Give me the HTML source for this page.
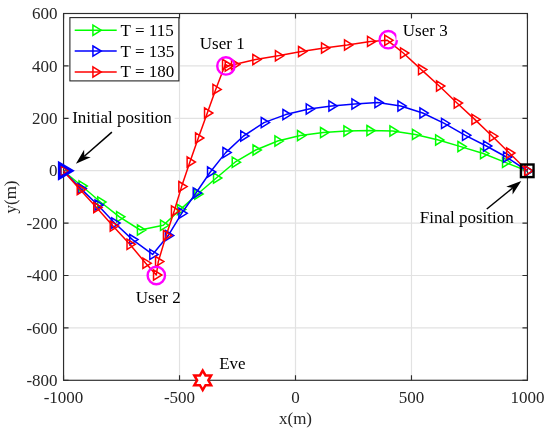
<!DOCTYPE html><html><head><meta charset="utf-8"><title>UAV trajectories</title>
<style>html,body{margin:0;padding:0;background:#fff}svg{display:block}text{font-family:"Liberation Serif","Times New Roman",serif;font-size:17px}</style></head><body>
<svg width="550" height="431" viewBox="0 0 550 431">
<rect width="550" height="431" fill="#fff"/>
<path d="M63.55 13.50V380.30M179.53 13.50V380.30M295.50 13.50V380.30M411.48 13.50V380.30M527.45 13.50V380.30M63.55 13.50H527.45M63.55 65.90H527.45M63.55 118.30H527.45M63.55 170.70H527.45M63.55 223.10H527.45M63.55 275.50H527.45M63.55 327.90H527.45M63.55 380.30H527.45" stroke="#e2e2e2" stroke-width="1.2" fill="none"/>
<rect x="63.55" y="13.50" width="463.90" height="366.80" fill="none" stroke="#2e2e2e" stroke-width="1.15"/>
<path d="M63.55 380.30v-5.00M63.55 13.50v5.00M179.53 380.30v-5.00M179.53 13.50v5.00M295.50 380.30v-5.00M295.50 13.50v5.00M411.48 380.30v-5.00M411.48 13.50v5.00M527.45 380.30v-5.00M527.45 13.50v5.00M63.55 13.50h5.00M527.45 13.50h-5.00M63.55 65.90h5.00M527.45 65.90h-5.00M63.55 118.30h5.00M527.45 118.30h-5.00M63.55 170.70h5.00M527.45 170.70h-5.00M63.55 223.10h5.00M527.45 223.10h-5.00M63.55 275.50h5.00M527.45 275.50h-5.00M63.55 327.90h5.00M527.45 327.90h-5.00M63.55 380.30h5.00M527.45 380.30h-5.00" stroke="#2e2e2e" stroke-width="1.15" fill="none"/>
<g fill="#262626">
<text x="63.55" y="402.5" text-anchor="middle">-1000</text>
<text x="179.53" y="402.5" text-anchor="middle">-500</text>
<text x="295.50" y="402.5" text-anchor="middle">0</text>
<text x="411.48" y="402.5" text-anchor="middle">500</text>
<text x="527.45" y="402.5" text-anchor="middle">1000</text>
<text x="57.6" y="19.25" text-anchor="end">600</text>
<text x="57.6" y="71.65" text-anchor="end">400</text>
<text x="57.6" y="124.05" text-anchor="end">200</text>
<text x="57.6" y="176.45" text-anchor="end">0</text>
<text x="57.6" y="228.85" text-anchor="end">-200</text>
<text x="57.6" y="281.25" text-anchor="end">-400</text>
<text x="57.6" y="333.65" text-anchor="end">-600</text>
<text x="57.6" y="386.05" text-anchor="end">-800</text>
<text x="295.5" y="424.2" text-anchor="middle">x(m)</text>
<text transform="translate(16.3 197) rotate(-90)" text-anchor="middle">y(m)</text>
</g>
<path d="M63.50 171.00L81.80 186.00L100.50 202.00L119.40 216.80L140.20 230.00L163.30 225.30L180.20 209.60L197.60 194.00L216.30 178.00L235.00 162.20L255.80 150.00L277.70 141.00L300.30 135.60L323.30 132.60L346.70 131.00L369.70 130.60L392.70 131.00L415.30 134.40L438.40 140.00L460.70 146.60L483.30 153.50L505.30 162.40L527.50 171.00" stroke="#00ff00" stroke-width="1.50" fill="none" stroke-linejoin="round"/>
<path d="M60.73 165.90L69.03 171.00L60.73 176.10ZM79.03 180.90L87.33 186.00L79.03 191.10ZM97.73 196.90L106.03 202.00L97.73 207.10ZM116.63 211.70L124.93 216.80L116.63 221.90ZM137.43 224.90L145.73 230.00L137.43 235.10ZM160.53 220.20L168.83 225.30L160.53 230.40ZM177.43 204.50L185.73 209.60L177.43 214.70ZM194.83 188.90L203.13 194.00L194.83 199.10ZM213.53 172.90L221.83 178.00L213.53 183.10ZM232.23 157.10L240.53 162.20L232.23 167.30ZM253.03 144.90L261.33 150.00L253.03 155.10ZM274.93 135.90L283.23 141.00L274.93 146.10ZM297.53 130.50L305.83 135.60L297.53 140.70ZM320.53 127.50L328.83 132.60L320.53 137.70ZM343.93 125.90L352.23 131.00L343.93 136.10ZM366.93 125.50L375.23 130.60L366.93 135.70ZM389.93 125.90L398.23 131.00L389.93 136.10ZM412.53 129.30L420.83 134.40L412.53 139.50ZM435.63 134.90L443.93 140.00L435.63 145.10ZM457.93 141.50L466.23 146.60L457.93 151.70ZM480.53 148.40L488.83 153.50L480.53 158.60ZM502.53 157.30L510.83 162.40L502.53 167.50ZM524.73 165.90L533.03 171.00L524.73 176.10Z" stroke="#00ff00" stroke-width="1.50" fill="none" stroke-linejoin="miter"/>
<path d="M63.50 171.00L80.80 188.60L97.80 205.00L114.60 223.00L132.50 239.60L152.60 254.40L168.20 235.60L181.70 213.30L196.00 193.00L210.30 172.00L225.70 152.60L243.50 136.00L264.00 122.60L285.70 114.60L309.00 109.00L331.70 106.00L354.70 104.00L377.70 102.60L400.70 106.00L422.70 113.00L444.30 123.40L465.30 135.30L486.30 146.00L506.30 157.00L527.50 171.00" stroke="#0000ff" stroke-width="1.50" fill="none" stroke-linejoin="round"/>
<path d="M60.73 165.90L69.03 171.00L60.73 176.10ZM78.03 183.50L86.33 188.60L78.03 193.70ZM95.03 199.90L103.33 205.00L95.03 210.10ZM111.83 217.90L120.13 223.00L111.83 228.10ZM129.73 234.50L138.03 239.60L129.73 244.70ZM149.83 249.30L158.13 254.40L149.83 259.50ZM165.43 230.50L173.73 235.60L165.43 240.70ZM178.93 208.20L187.23 213.30L178.93 218.40ZM193.23 187.90L201.53 193.00L193.23 198.10ZM207.53 166.90L215.83 172.00L207.53 177.10ZM222.93 147.50L231.23 152.60L222.93 157.70ZM240.73 130.90L249.03 136.00L240.73 141.10ZM261.23 117.50L269.53 122.60L261.23 127.70ZM282.93 109.50L291.23 114.60L282.93 119.70ZM306.23 103.90L314.53 109.00L306.23 114.10ZM328.93 100.90L337.23 106.00L328.93 111.10ZM351.93 98.90L360.23 104.00L351.93 109.10ZM374.93 97.50L383.23 102.60L374.93 107.70ZM397.93 100.90L406.23 106.00L397.93 111.10ZM419.93 107.90L428.23 113.00L419.93 118.10ZM441.53 118.30L449.83 123.40L441.53 128.50ZM462.53 130.20L470.83 135.30L462.53 140.40ZM483.53 140.90L491.83 146.00L483.53 151.10ZM503.53 151.90L511.83 157.00L503.53 162.10ZM524.73 165.90L533.03 171.00L524.73 176.10Z" stroke="#0000ff" stroke-width="1.50" fill="none" stroke-linejoin="miter"/>
<path d="M63.50 171.00L80.00 189.50L96.50 207.50L113.00 226.00L129.80 244.30L145.70 263.20L156.30 275.00L158.30 261.60L166.20 235.40L174.20 211.00L181.60 186.60L189.90 162.00L198.30 138.00L207.30 113.00L215.70 89.40L225.30 64.50L228.00 66.00L234.30 64.60L255.60 59.60L278.20 55.80L301.30 51.60L324.30 48.00L347.30 45.00L370.30 41.40L387.50 40.30L403.30 53.00L421.30 69.60L439.30 86.00L457.00 103.00L474.70 119.40L492.30 136.20L509.40 153.00L527.40 170.70" stroke="#ff0000" stroke-width="1.50" fill="none" stroke-linejoin="round"/>
<path d="M60.73 165.90L69.03 171.00L60.73 176.10ZM77.23 184.40L85.53 189.50L77.23 194.60ZM93.73 202.40L102.03 207.50L93.73 212.60ZM110.23 220.90L118.53 226.00L110.23 231.10ZM127.03 239.20L135.33 244.30L127.03 249.40ZM142.93 258.10L151.23 263.20L142.93 268.30ZM153.53 269.90L161.83 275.00L153.53 280.10ZM155.53 256.50L163.83 261.60L155.53 266.70ZM163.43 230.30L171.73 235.40L163.43 240.50ZM171.43 205.90L179.73 211.00L171.43 216.10ZM178.83 181.50L187.13 186.60L178.83 191.70ZM187.13 156.90L195.43 162.00L187.13 167.10ZM195.53 132.90L203.83 138.00L195.53 143.10ZM204.53 107.90L212.83 113.00L204.53 118.10ZM212.93 84.30L221.23 89.40L212.93 94.50ZM222.53 59.40L230.83 64.50L222.53 69.60ZM225.23 60.90L233.53 66.00L225.23 71.10ZM231.53 59.50L239.83 64.60L231.53 69.70ZM252.83 54.50L261.13 59.60L252.83 64.70ZM275.43 50.70L283.73 55.80L275.43 60.90ZM298.53 46.50L306.83 51.60L298.53 56.70ZM321.53 42.90L329.83 48.00L321.53 53.10ZM344.53 39.90L352.83 45.00L344.53 50.10ZM367.53 36.30L375.83 41.40L367.53 46.50ZM384.73 35.20L393.03 40.30L384.73 45.40ZM400.53 47.90L408.83 53.00L400.53 58.10ZM418.53 64.50L426.83 69.60L418.53 74.70ZM436.53 80.90L444.83 86.00L436.53 91.10ZM454.23 97.90L462.53 103.00L454.23 108.10ZM471.93 114.30L480.23 119.40L471.93 124.50ZM489.53 131.10L497.83 136.20L489.53 141.30ZM506.63 147.90L514.93 153.00L506.63 158.10ZM524.63 165.60L532.93 170.70L524.63 175.80Z" stroke="#ff0000" stroke-width="1.50" fill="none" stroke-linejoin="miter"/>
<path d="M59.28 163.20L72.08 170.70L59.28 178.20Z" stroke="#0000ff" stroke-width="2.8" fill="none" stroke-linejoin="miter"/>
<rect x="520.95" y="164.50" width="12.6" height="12.6" fill="none" stroke="#000" stroke-width="2.4"/>
<circle cx="225.92" cy="65.90" r="8.7" fill="none" stroke="#ff00ff" stroke-width="2.4"/>
<circle cx="156.33" cy="275.50" r="8.7" fill="none" stroke="#ff00ff" stroke-width="2.4"/>
<circle cx="388.28" cy="39.70" r="8.7" fill="none" stroke="#ff00ff" stroke-width="2.4"/>
<path d="M202.72 370.60L205.52 375.45L211.12 375.45L208.32 380.30L211.12 385.15L205.52 385.15L202.72 390.00L199.92 385.15L194.32 385.15L197.12 380.30L194.32 375.45L199.92 375.45Z" fill="#fff" stroke="#ff0000" stroke-width="2.5" stroke-linejoin="miter"/>
<rect x="69.6" y="106" width="105" height="22.5" fill="#fff"/><rect x="396.4" y="18.8" width="54" height="21.4" fill="#fff"/>
<g fill="#000">
<text x="72.2" y="122.9">Initial position</text>
<text x="419.8" y="222.8">Final position</text>
<text x="199.8" y="49">User 1</text>
<text x="402.8" y="36">User 3</text>
<text x="135.8" y="303.2">User 2</text>
<text x="219.2" y="369">Eve</text>
</g>
<path d="M111.90 132.10L84.32 156.31" stroke="#000" stroke-width="1.50" fill="none"/>
<path d="M75.90 163.70L84.10 149.85L84.32 156.31L90.70 157.36Z" fill="#000"/>
<path d="M486.80 209.00L512.62 187.97" stroke="#000" stroke-width="1.50" fill="none"/>
<path d="M521.30 180.90L512.59 194.44L512.62 187.97L506.28 186.69Z" fill="#000"/>
<rect x="69.9" y="17.6" width="109" height="63.3" fill="#fff" stroke="#262626" stroke-width="1.1"/>
<path d="M74.7 30.20H116.7" stroke="#00ff00" stroke-width="1.50" fill="none"/>
<path d="M92.93 25.10L101.23 30.20L92.93 35.30Z" stroke="#00ff00" stroke-width="1.50" fill="none"/>
<text x="120.6" y="35.60" fill="#000">T = 115</text>
<path d="M74.7 51.10H116.7" stroke="#0000ff" stroke-width="1.50" fill="none"/>
<path d="M92.93 46.00L101.23 51.10L92.93 56.20Z" stroke="#0000ff" stroke-width="1.50" fill="none"/>
<text x="120.6" y="56.50" fill="#000">T = 135</text>
<path d="M74.7 72.00H116.7" stroke="#ff0000" stroke-width="1.50" fill="none"/>
<path d="M92.93 66.90L101.23 72.00L92.93 77.10Z" stroke="#ff0000" stroke-width="1.50" fill="none"/>
<text x="120.6" y="77.40" fill="#000">T = 180</text>
</svg></body></html>
